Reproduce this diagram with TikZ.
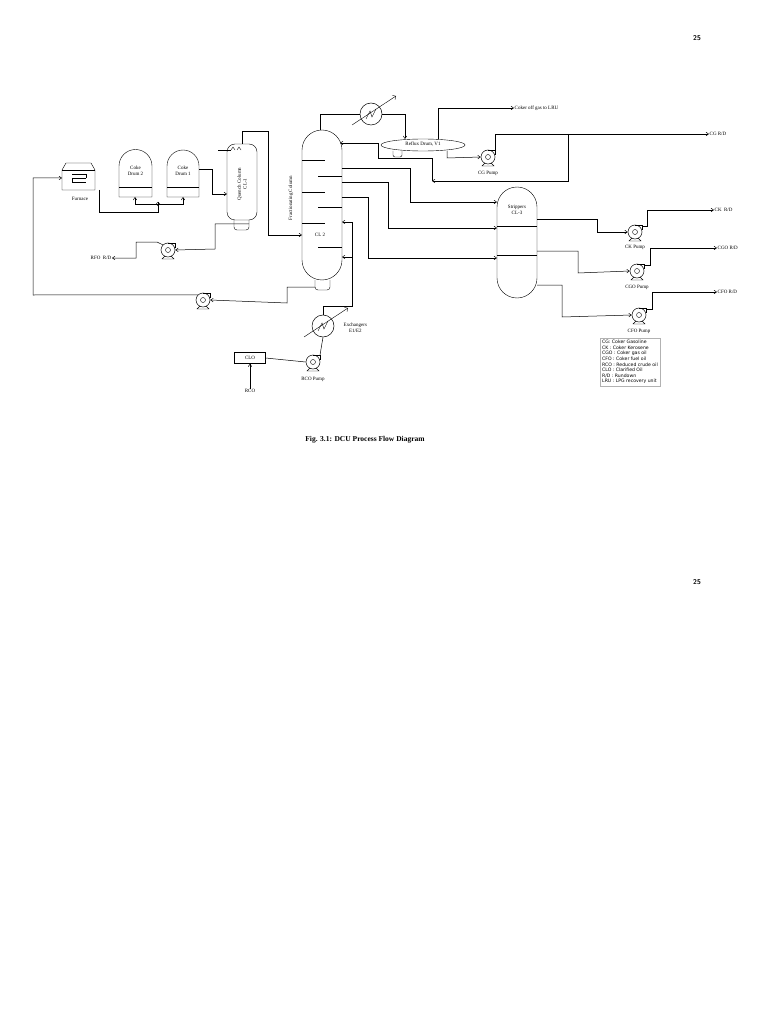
\documentclass[tikz,border=0pt]{standalone}
\usepackage{fontspec}
\setmainfont{Liberation Serif}
\newfontfamily\legendfont{DejaVu Sans}
\usetikzlibrary{arrows.meta}

\tikzset{
  pipe/.style={draw, line width=0.5pt},
  flow/.style={pipe, -{Straight Barb[length=2.5pt,width=3.5pt]}},
  lbl/.style={font=\fontsize{5}{5.6}\selectfont, align=center, inner sep=0.5pt},
  pump/.style={draw, circle, minimum size=14pt, inner sep=0pt, line width=0.5pt},
}
\newcommand{\pumpsym}[2]{% name, position
  \node[pump] (#1) at (#2) {};
  \draw ([shift={(0,0)}]#1.center) circle (2.5pt);
  \draw (#1.north) -- ++(7,0) -- ++(0,5);
  \draw ([shift={(-3,6)}]#1.center) -- ++(-3,3) -- ++(12,0) -- ++(-3,-3);
}
\newcommand{\hx}[2]{% name, position
  \node[pump, minimum size=22pt] (#1) at (#2) {};
  \draw ([shift={(-5,5)}]#1.center) -- ([shift={(-1,-3)}]#1.center) -- ([shift={(1,3)}]#1.center) -- ([shift={(5,-5)}]#1.center);
  \draw[-{Straight Barb[length=2.5pt]}] ([shift={(-19,11)}]#1.center) -- ([shift={(25,-18)}]#1.center);
}

\begin{document}
\begin{tikzpicture}[x=1pt, y=-1pt]
  \useasboundingbox (0,0) rectangle (768,1024);

  % page numbers and caption
  \node[font=\sffamily\bfseries\fontsize{7}{8}\selectfont] (pg1) at (697,38) {25};
  \node[font=\sffamily\bfseries\fontsize{7}{8}\selectfont] (pg2) at (697,582) {25};
  \node[font=\bfseries\fontsize{7.5}{9}\selectfont] (cap) at (365,440) {Fig. 3.1: DCU Process Flow Diagram};

  % furnace
  \draw (62,190) -- (62,170) -- (66,163) -- (91,163) -- (95,170) -- (95,190) -- cycle;
  \draw (62,170) -- (95,170);
  \draw (72,174) -- (86,174) (72,178) -- (86,178) (72,182) -- (86,182);
  \draw (86,174) -- (86,178) (72,178) -- (72,182);
  \coordinate (furnL) at (62,178);
  \coordinate (furnB) at (99,190);
  \node[lbl] (furnace) at (80,199) {Furnace};

  % coke drums
  \draw (119,197) -- (119,166) arc (180:360:16.5) -- (152,197) -- cycle;
  \draw (119,187) -- (152,187);
  \node[lbl] (drum2) at (135.5,171) {Coke\\Drum 2};
  \draw (167,197) -- (167,166) arc (180:360:16) -- (199,197) -- cycle;
  \draw (167,187) -- (199,187);
  \node[lbl] (drum1) at (183,171) {Coke\\Drum 1};
  \node[draw, circle, inner sep=1.3pt, fill=white] (valve) at (158,204) {};
  \draw (valve.north) -- (valve.south) (valve.west) -- (valve.east);

  % quench column
  \draw[rounded corners=8] (227,220) -- (227,144) -- (257,144) -- (257,220) -- cycle;
  \draw[rounded corners=3] (234,220) -- (234,230) -- (249,230) -- (249,220);
  \node[lbl, rotate=90] (quench) at (242,184) {Quench Column\\CL-1};
  \draw (218,150) -- (231,150);
  \draw (231,150) -- (233,147) -- (235,150) (237,150) -- (239,147) -- (241,150);

  % fractionating column
  \draw[rounded corners=20] (302,130) rectangle (342,280);
  \draw[rounded corners=3] (315,280) -- (315,290) -- (330,290) -- (330,280);
  \draw (302,160) -- (325,160) (318,176) -- (342,176) (302,192) -- (325,192)
        (318,207) -- (342,207) (302,223) -- (325,223) (318,247) -- (342,247);
  \node[lbl] (cl2) at (320,235) {CL 2};
  \node[lbl, rotate=90] (frac) at (291,198) {Fractionating Column};

  % condenser and reflux drum
  \hx{cond}{371,114}
  \draw (423,145) ellipse (42pt and 6pt);
  \draw[rounded corners=2] (393,151) -- (393,157) -- (402,157) -- (402,151);
  \node[lbl] (reflux) at (423,144) {Reflux Drum, V1};
  \node[lbl, anchor=west] (offgas) at (514,108) {Coker off gas to LRU};

  % strippers
  \draw[rounded corners=20] (497,187) rectangle (537,298);
  \draw (497,226) -- (537,226) (497,255) -- (537,255);
  \node[lbl] (strip) at (517,210) {Strippers\\CL-3};

  % pumps
  \pumpsym{cgp}{488,157}
  \node[lbl] at (488,173) {CG Pump};
  \pumpsym{ckp}{635,232}
  \node[lbl] at (635,247) {CK Pump};
  \pumpsym{cgop}{637,271}
  \node[lbl] at (637,287) {CGO Pump};
  \pumpsym{cfop}{639,315}
  \node[lbl] at (639,331) {CFO Pump};
  \pumpsym{rfop}{168,250}
  \pumpsym{botp}{203,300}
  \pumpsym{rcop}{313,362}
  \node[lbl] at (313,379) {RCO Pump};
  \hx{exch}{323,326}
  \node[lbl, anchor=west] (exlbl) at (343,328) {Exchangers\\E1/E2};

  % outlet labels
  \node[lbl, anchor=west] (cgrd) at (709,134) {CG R/D};
  \node[lbl, anchor=west] (ckrd) at (714,210) {CK\ \ R/D};
  \node[lbl, anchor=west] (cgord) at (717,248) {CGO R/D};
  \node[lbl, anchor=west] (cford) at (717,292) {CFO R/D};
  \node[lbl, anchor=east] (rford) at (112,258) {RFO\ \ R/D};
  \node[draw, lbl, minimum width=31pt, minimum height=11pt] (clo) at (250,358) {CLO};
  \node[lbl] (rco) at (250,391) {RCO};

  % feed to drums
  \draw[pipe] (furnB) -- (99,212) -- (158,212) -- (valve.south);
  \draw[flow] (valve.west) -- (135,204) -- (135,197);
  \draw[flow] (valve.east) -- (183,204) -- (183,197);
  \draw[flow] (199,169) -- (212,169) -- (212,194) -- (227,194);
  \draw[flow] (242,144) -- (242,131) -- (268,131) -- (268,235) -- (302,235);
  \draw[flow] (249,224) -- (215,224) -- (215,249) -- (rfop.east);
  \draw[flow] (rfop.north west) -- (157,242) -- (136,242) -- (136,258) -- (rford.east);
  \draw[flow] (315,287) -- (287,287) -- (287,303) -- (botp.east);
  \draw[flow] (botp.north west) -- (33,295) -- (33,178) -- (furnL);

  % overhead system
  \draw[pipe] (320,130) -- (320,114) -- (cond.west);
  \draw[flow] (cond.east) -- (405,114) -- (405,139);
  \draw[flow] (438,139) -- (438,108) -- (offgas.west);
  \draw[flow] (447,151) -- (447,158) -- (cgp.west);
  \draw[flow] (495,150) -- (495,134) -- (cgrd.west);
  \draw[flow] (568,134) -- (568,181) -- (432,181);
  \draw[flow] (432,181) -- (432,158) -- (378,158) -- (378,143) -- (340,143);

  % side draws
  \draw[flow] (342,168) -- (410,168) -- (410,202) -- (497,202);
  \draw[flow] (342,182) -- (388,182) -- (388,228) -- (497,228);
  \draw[flow] (342,197) -- (368,197) -- (368,258) -- (497,258);

  % stripper products
  \draw[flow] (537,219) -- (597,219) -- (597,232) -- (ckp.west);
  \draw[flow] (642,226) -- (647,226) -- (647,210) -- (ckrd.west);
  \draw[flow] (537,251) -- (578,251) -- (578,273) -- (cgop.west);
  \draw[flow] (644,265) -- (650,265) -- (650,248) -- (cgord.west);
  \draw[flow] (537,285) -- (562,285) -- (562,317) -- (cfop.west);
  \draw[flow] (646,309) -- (652,309) -- (652,292) -- (cford.west);

  % feed system
  \draw[flow] (rco.north) -- (clo.south);
  \draw[pipe] (clo.east) -- (rcop.west);
  \draw[pipe] (320,355) -- (exch.south);
  \draw[pipe] (exch.north) -- (323,306) -- (352,306) -- (352,222);
  \draw[flow] (352,222) -- (342,222);
  \draw[flow] (352,257) -- (342,257);

  % legend
  \node[draw=gray!60, anchor=north west, align=left, inner sep=2pt,
        font=\legendfont\fontsize{4.6}{5.6}\selectfont] (legend) at (600,338)
    {CG: Coker Gasoline\\CK : Coker Kerosene\\CGO : Coker gas oil\\CFO : Coker fuel oil\\
     RCO : Reduced crude oil\\CLO : Clarified Oil\\R/D : Rundown\\LRU : LPG recovery unit};
\end{tikzpicture}
\end{document}
